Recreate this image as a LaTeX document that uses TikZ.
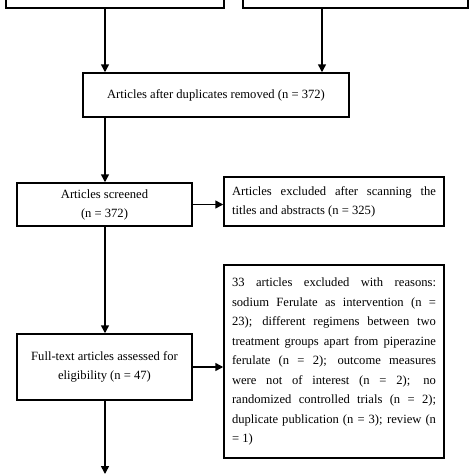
\documentclass[tikz,border=0pt]{standalone}
\usepackage{fontspec}
\setmainfont{Liberation Serif}
\usetikzlibrary{arrows.meta}
\begin{document}
\begin{tikzpicture}[x=1pt,y=-1pt,
  box/.style={draw=black,line width=1.5pt,inner sep=0pt,font=\fontsize{12.6}{19}\selectfont},
  arr/.style={line width=1.5pt,-{Triangle[length=8pt,width=8pt]}}]
\path[fill=white] (0,0) rectangle (474,474);
\useasboundingbox (0,0) rectangle (474,474);
\begin{scope}
\clip (0,0) rectangle (474,474);
\node[box,minimum width=218pt,minimum height=48pt] (topL) at (115,-16) {};
\node[box,minimum width=225pt,minimum height=48pt] (topR) at (355.5,-16) {};
\node[box,minimum width=266pt,minimum height=44pt] (dup) at (216,95) {Articles after duplicates removed (n = 372)};
\node[box,minimum width=175pt,minimum height=43pt,align=center] (scr) at (104.5,204.5) {Articles screened\\(n = 372)};
\node[box,minimum width=220pt,minimum height=49pt,text width=204pt,align=justify] (exc1) at (334,201.5) {Articles excluded after scanning the\linebreak titles and abstracts (n = 325)};
\node[box,minimum width=175pt,minimum height=66pt,align=center] (ft) at (104.5,367) {Full-text articles assessed for\\eligibility (n = 47)};
\node[box,minimum width=220pt,minimum height=193pt,text width=204pt,align=justify,font=\fontsize{12.6}{19.5}\selectfont] (exc2) at (334,361.5) {33 articles excluded with reasons:\linebreak sodium Ferulate as intervention (n =\linebreak 23); different regimens between two\linebreak treatment groups apart from piperazine\linebreak ferulate (n = 2); outcome measures\linebreak were not of interest (n = 2); no\linebreak randomized controlled trials (n = 2);\linebreak duplicate publication (n = 3); review (n\linebreak = 1)};
\coordinate (rx) at (322,0);
\coordinate (bot) at (105,474);
\draw[arr] (topL.south -| bot) -- (dup.north -| bot);
\draw[arr] (topR.south -| rx) -- (dup.north -| rx);
\draw[arr] (dup.south -| bot) -- (scr.north -| bot);
\draw[arr] (scr.east) -- (scr.east -| exc1.west);
\draw[arr] (scr.south -| bot) -- (ft.north -| bot);
\draw[arr] (ft.east) -- (ft.east -| exc2.west);
\draw[arr] (ft.south -| bot) -- (bot);
\end{scope}
\end{tikzpicture}
\end{document}
